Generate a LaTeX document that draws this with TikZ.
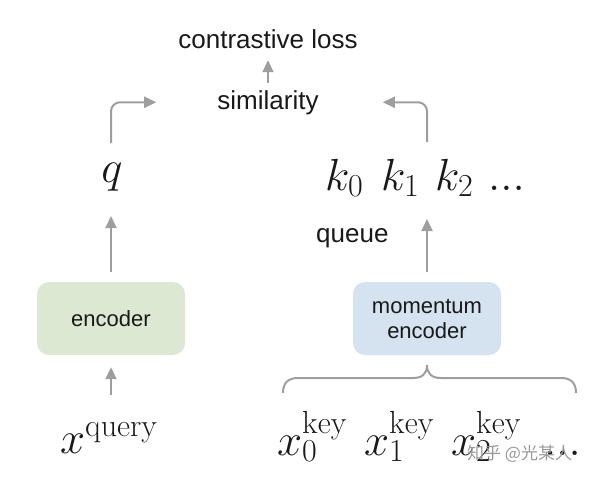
\RequirePackage{fix-cm}
\documentclass[tikz,border=0pt]{standalone}
\usepackage{fontspec}
\newfontfamily\arial{Liberation Sans}
\newfontfamily\cjk{Noto Sans CJK SC}
\usetikzlibrary{arrows.meta}
\DeclareMathSizes{45}{45}{32}{24}
\definecolor{arrgray}{RGB}{158,158,158}
\definecolor{encgreen}{RGB}{221,232,211}
\definecolor{encblue}{RGB}{212,227,239}
\definecolor{txt}{RGB}{25,25,25}
\begin{document}
\begin{tikzpicture}[x=1pt,y=-1pt,
  lbl/.style={font=\arial\fontsize{26}{30}\selectfont, inner sep=0pt, text height=19pt, text depth=5.5pt, text=txt},
  mth/.style={font=\fontsize{45}{54}\selectfont, inner sep=0pt, text=txt},
  arr/.style={draw=arrgray, line width=2pt, -{Triangle[length=12pt,width=11pt]}},
  encbox/.style={rounded corners=12pt, minimum width=148pt, minimum height=73pt, inner sep=0pt, align=center, font=\arial\fontsize{22}{25}\selectfont, text=txt},
  bracestyle/.style={draw=arrgray, line width=2pt}]
\useasboundingbox (0,0) rectangle (591,482);

% labels
\node[lbl, anchor=base] (loss) at (268,48) {contrastive loss};
\node[lbl, anchor=base] (sim) at (268,109) {similarity};
\node[lbl, anchor=base west] (queue) at (316,242) {queue};

% math
\node[mth, anchor=base] (q) at (112,182) {$q$};
\node[mth, anchor=base west] (k0) at (325,190) {$k_0$};
\node[mth, anchor=base west] (k1) at (381,190) {$k_1$};
\node[mth, anchor=base west] (k2) at (435,190) {$k_2$};
\node[mth, anchor=base west] (kd) at (488,190) {$...$};

\node[mth, anchor=base west] (xq) at (60,453) {$x^{\mathrm{query}}$};
\node[mth, anchor=base west] (x0) at (277,455) {$x_0^{\mathrm{key}}$};
\node[mth, anchor=base west] (x1) at (364,455) {$x_1^{\mathrm{key}}$};
\node[mth, anchor=base west] (x2) at (451,455) {$x_2^{\mathrm{key}}$};
\node[mth, anchor=base west] (xd) at (544,455) {$...$};

% boxes
\node[encbox, fill=encgreen] (enc) at (111,318.5) {encoder};
\node[encbox, fill=encblue] (menc) at (427,318.5) {momentum\\encoder};

% arrows
\draw[arr, shorten <=27pt, shorten >=12pt] (enc.south |- xq.north) -- (enc.south);
\draw[arr, shorten <=10pt, shorten >=34pt] (enc.north) -- (enc.north |- q.base);
\draw[arr, shorten <=10pt, shorten >=29pt] (menc.north) -- (menc.north |- k1.base);
\draw[arr, rounded corners=9pt, shorten <=39pt, shorten >=61pt] (enc.north |- q.base) |- (sim.west);
\draw[arr, rounded corners=9pt, shorten <=48pt, shorten >=64pt] (menc.north |- k1.base) |- (sim.east);
\draw[arr, shorten <=7.3pt, shorten >=6.5pt] (sim.north) -- (loss.south);

% brace
\draw[bracestyle] (283,393) .. controls (283,383) and (288,378) .. (298,378) -- (413,378)
  .. controls (422,378) and (427,374) .. (427,365)
  .. controls (427,374) and (432,378) .. (441,378) -- (561,378)
  .. controls (571,378) and (576,383) .. (576,393);

% watermark
\node[font=\cjk\fontsize{17}{20}\selectfont, text=black!40, anchor=base west, inner sep=0pt] (wm) at (467,459) {知乎 @光某人};
\end{tikzpicture}
\end{document}
